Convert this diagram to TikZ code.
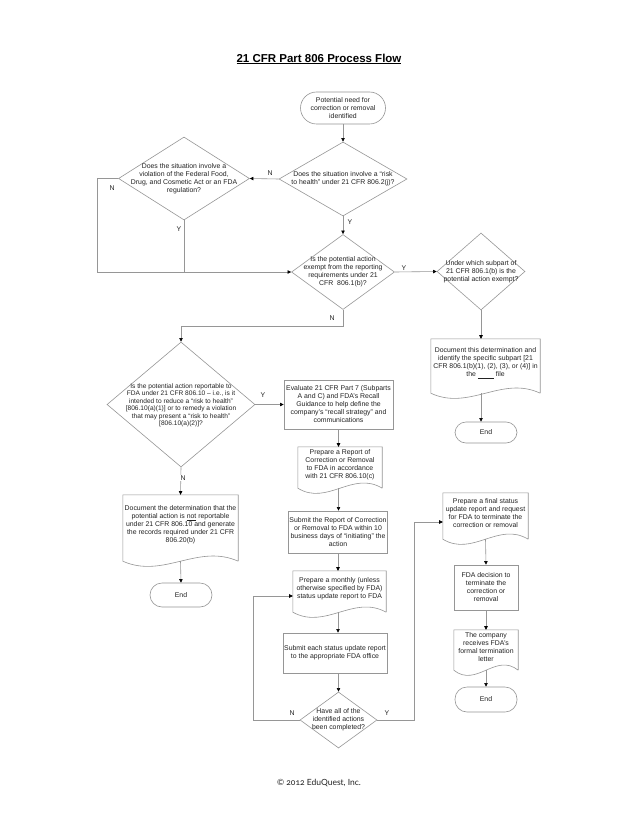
\documentclass[tikz,border=0pt]{standalone}
\usepackage{fontspec}
\setmainfont{Liberation Sans}
\newfontfamily\copyfont[Numbers=OldStyle]{Lato}
\usetikzlibrary{positioning, arrows.meta, shapes.geometric, calc}
\definecolor{flowgray}{RGB}{150,150,150}
\definecolor{inkgray}{RGB}{35,35,35}
\newcommand{\wavedoc}[1]{%
  \draw[link] ($(#1.south east)+(0,6)$) -- (#1.north east) -- (#1.north west) -- ($(#1.south west)+(0,6)$)
    .. controls ($(#1.south west)!0.35!(#1.south east)+(0,24)$) and ($(#1.south west)!0.65!(#1.south east)+(0,-12)$) .. ($(#1.south east)+(0,6)$);
  \coordinate (#1-w) at ($(#1.south)+(0,6)$);}

\begin{document}
\begin{tikzpicture}[x=1pt, y=-1pt,
    every node/.style={text=inkgray, font=\fontsize{6.9}{8}\selectfont},
    link/.style={draw=flowgray, line width=0.6pt},
    flow/.style={link, -{Triangle[length=3.6pt, width=3.4pt, color=black]}},
    terminal/.style={draw=flowgray, line width=0.6pt, rounded corners=#1, minimum width=62, inner sep=1pt, align=center},
    terminal/.default=11pt,
    decision/.style={diamond, draw=flowgray, line width=0.6pt, inner sep=0pt},
    dtext/.style={align=center, inner sep=0pt},
    procbox/.style={draw=flowgray, line width=0.6pt, inner sep=1pt, align=center},
    docnode/.style={inner sep=1pt, align=center},
    yn/.style={fill=white, inner sep=1pt}]
    \fill[white] (0,0) rectangle (638,826);
    \useasboundingbox (0,0) rectangle (638,826);

    \node[font=\fontsize{11.5}{13}\selectfont\bfseries, text=black] (title) at (319,59) {\underline{21 CFR Part 806 Process Flow}};

    \node[terminal=16pt, minimum width=85, minimum height=32] (start) at (343,108) {Potential need for\\correction or removal\\identified};

    \node[decision, minimum width=128, minimum height=74,
          label={[dtext]center:{Does the situation involve a “risk\\to health” under 21 CFR 806.2(j)?}}] (risk) at (343,179) {};
    \node[decision, minimum width=131, minimum height=83,
          label={[dtext]center:{Does the situation involve a\\violation of the Federal Food,\\Drug, and Cosmetic Act or an FDA\\regulation?}}] (fdc) at (184,178.5) {};
    \node[decision, minimum width=103, minimum height=75,
          label={[dtext]center:{Is the potential action\\exempt from the reporting\\requirements under 21\\CFR~ 806.1(b)?}}] (exempt) at (343,272) {};
    \node[decision, minimum width=88, minimum height=77,
          label={[dtext]center:{Under which subpart of\\21 CFR 806.1(b) is the\\potential action exempt?}}] (subpart) at (481,271.5) {};

    \node[docnode, minimum width=109, minimum height=48] (docR) at (485.5,363) {Document this determination and\\identify the specific subpart [21\\CFR 806.1(b)(1), (2), (3), or (4)] in\\the \underline{\hspace{16pt}} file};
    \wavedoc{docR}
    \node[terminal, minimum height=21] (endR) at (486,432.5) {End};

    \node[decision, minimum width=148, minimum height=125,
          label={[dtext, font=\fontsize{6.6}{7.5}\selectfont, yshift=-1pt]center:{Is the potential action reportable to\\FDA under 21 CFR 806.10 – i.e., is it\\intended to reduce a “risk to health”\\{}[806.10(a)(1)] or to remedy a violation\\that may present a “risk to health”\\{}[806.10(a)(2)]?}}] (report) at (181,404.5) {};

    \node[procbox, minimum width=109, minimum height=49] (eval) at (338.5,404.5) {Evaluate 21 CFR Part 7 (Subparts\\A and C) and FDA’s Recall\\Guidance to help define the\\company’s “recall strategy” and\\communications};
    \node[docnode, minimum width=84, minimum height=35] (docRep) at (340,464.5) {Prepare a Report of\\Correction or Removal\\to FDA in accordance\\with 21 CFR 806.10(c)};
    \wavedoc{docRep}
    \node[procbox, minimum width=98, minimum height=42] (submit) at (338,532) {Submit the Report of Correction\\or Removal to FDA within 10\\business days of “initiating” the\\action};
    \node[docnode, minimum width=93, minimum height=35] (docMon) at (339.5,588.5) {Prepare a monthly (unless\\otherwise specified by FDA)\\status update report to FDA};
    \wavedoc{docMon}
    \node[procbox, minimum width=96, minimum height=40] (subEach) at (335,653) {Submit each status update report\\to the appropriate FDA office};
    \node[decision, minimum width=77, minimum height=56,
          label={[dtext]center:{Have all of the\\identified actions\\been completed?}}] (done) at (338.5,720) {};

    \node[docnode, minimum width=115, minimum height=60] (docL) at (180.5,525) {Document the determination that the\\potential action is \underline{not} reportable\\under 21 CFR 806.10 and generate\\the records required under 21 CFR\\806.20(b)};
    \wavedoc{docL}
    \node[terminal=12pt, minimum height=24] (endL) at (181,595) {End};

    \node[docnode, minimum width=85, minimum height=40] (docFin) at (485.5,513) {Prepare a final status\\update report and request\\for FDA to terminate the\\correction or removal};
    \wavedoc{docFin}
    \node[procbox, minimum width=64, minimum height=45] (fda) at (486,587.5) {FDA decision to\\terminate the\\correction or\\removal};
    \node[docnode, minimum width=64, minimum height=34] (docCo) at (486,647) {The company\\receives FDA’s\\formal termination\\letter};
    \wavedoc{docCo}
    \node[terminal=12pt, minimum height=25] (endB) at (486,699.5) {End};

    \coordinate (fdcN) at (97,178.5);
    \coordinate (loopL) at (253,596);
    \coordinate (loopR) at (414,522);

    \draw[flow] (start) -- (risk.north);
    \draw[flow] (risk.west) -- (fdc.east);
    \draw[flow] (fdc.west) -- (fdcN) |- (exempt.west);
    \draw[link] (fdc.south) -- (fdc.south |- exempt.west);
    \draw[flow] (risk.south) -- (exempt.north);
    \draw[flow] (exempt.east) -- (subpart.west);
    \draw[flow] (subpart.south) -- (subpart.south |- docR.north);
    \draw[flow] (docR-w -| subpart.south) -- (subpart.south |- endR.north);
    \draw[flow] (exempt.south) -- ++(0,16) -| (report.north);
    \draw[flow] (report.east) -- (eval.west);
    \draw[flow] (eval.south) -- (eval.south |- docRep.north);
    \draw[flow] (docRep-w -| eval.south) -- (eval.south |- submit.north);
    \draw[flow] (submit.south) -- (submit.south |- docMon.north);
    \draw[flow] (docMon-w -| submit.south) -- (submit.south |- subEach.north);
    \draw[flow] (subEach.south -| done.north) -- (done.north);
    \draw[flow] (report.south) -- (docL.north);
    \draw[flow] (docL-w) -- (endL.north);
    \draw[flow] (done.west) -| (loopL) -- (loopL -| docMon.west);
    \draw[flow] (done.east) -| (loopR) -- (loopR -| docFin.west);
    \draw[flow] (docFin-w) -- (fda.north);
    \draw[flow] (fda.south) -- (docCo.north);
    \draw[flow] (docCo-w) -- (endB.north);

    \node[yn] (nRisk) at (270,173) {N};
    \node[yn] (nFdc) at (112,188) {N};
    \node[yn] (yFdc) at (179,229) {Y};
    \node[yn] (yRisk) at (350,222) {Y};
    \node[yn] (yExempt) at (404,268) {Y};
    \node[yn] (nExempt) at (332,318) {N};
    \node[yn] (yReport) at (263,395) {Y};
    \node[yn] (nReport) at (183,478) {N};
    \node[yn] (nDone) at (292,713) {N};
    \node[yn] (yDone) at (387,713) {Y};

    \node[font=\copyfont\fontsize{8.5}{10}\selectfont] (copy) at (319,783) {© 2012 EduQuest, Inc.};
\end{tikzpicture}
\end{document}
